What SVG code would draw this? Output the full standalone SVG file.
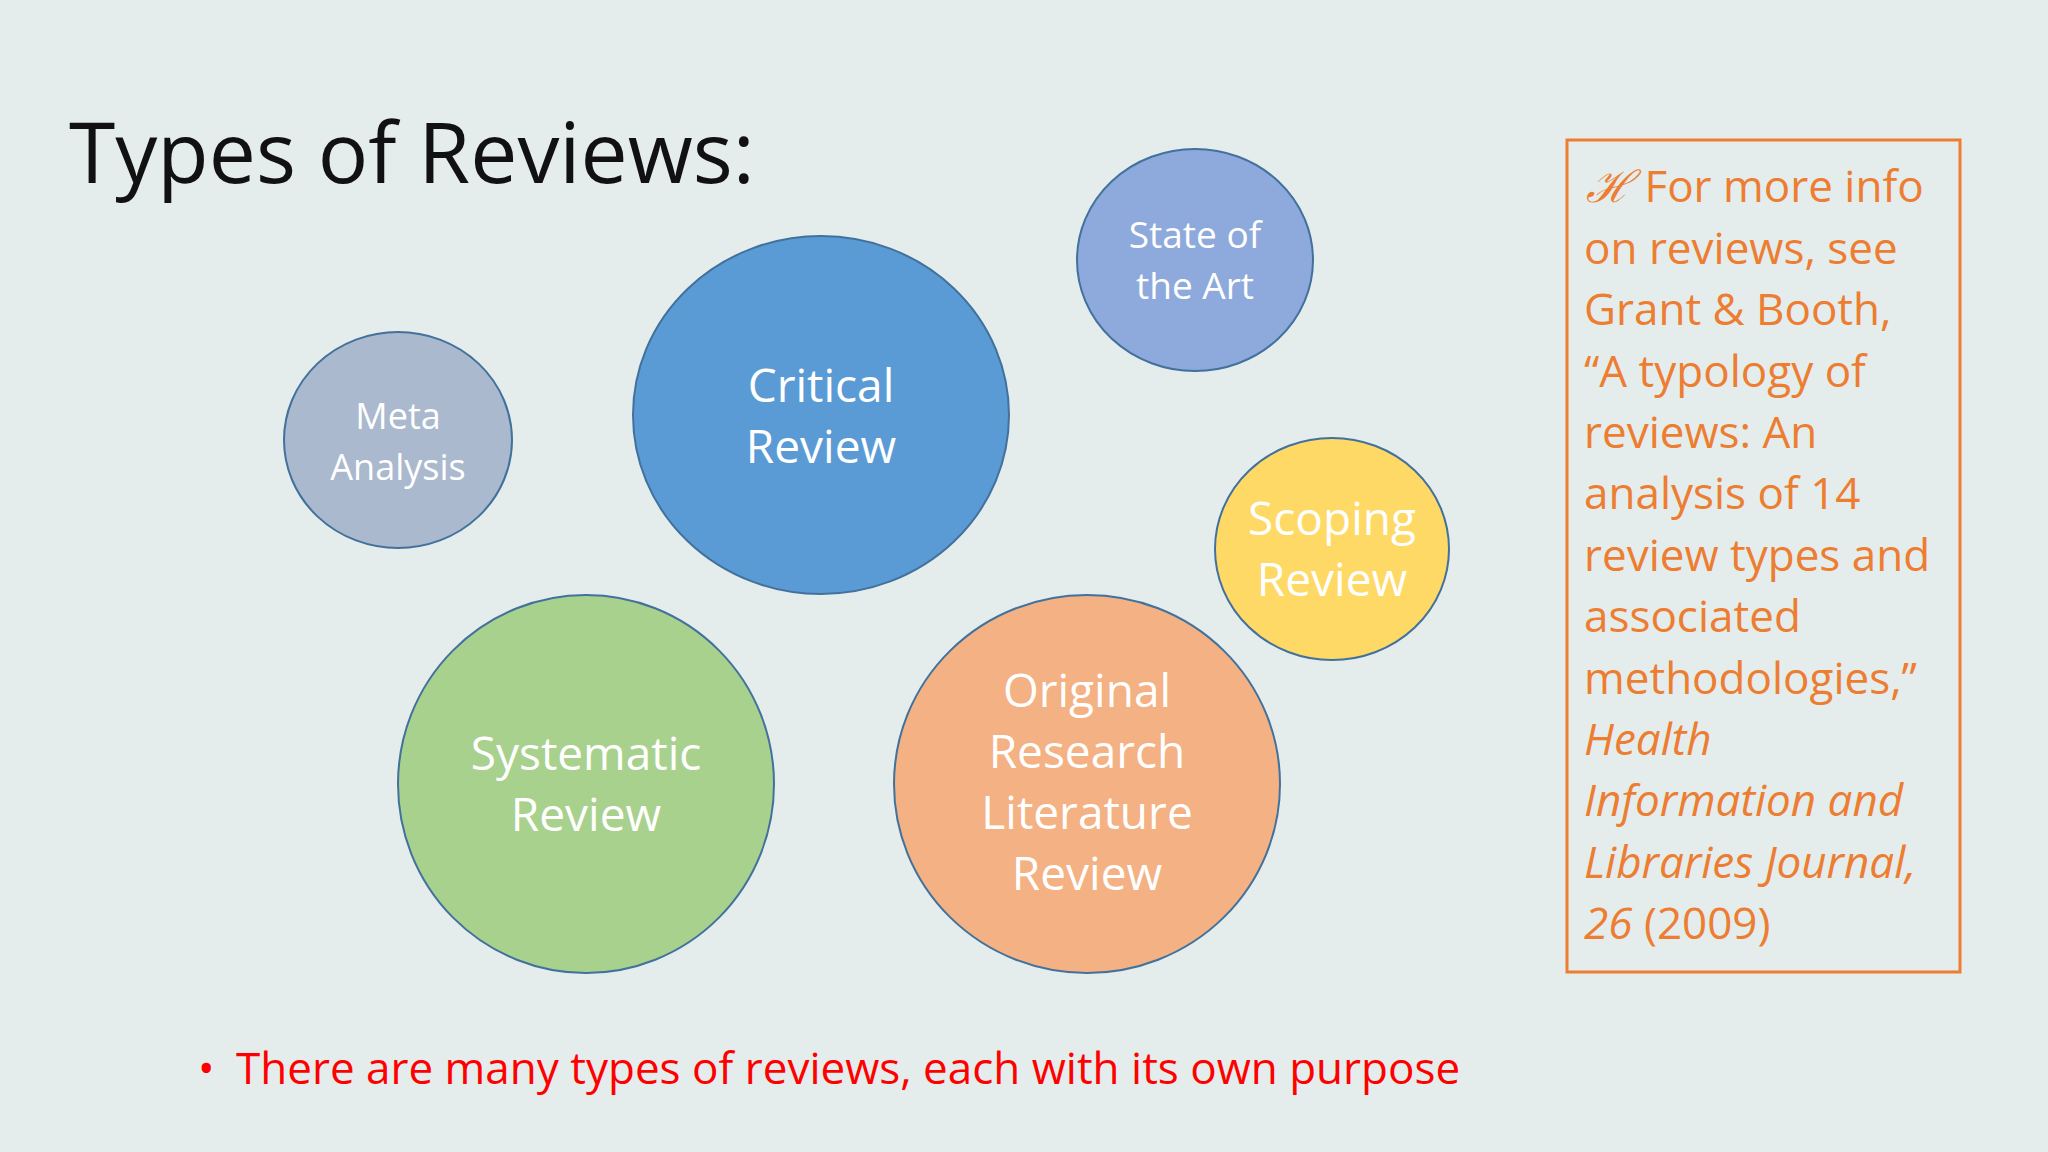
<svg xmlns="http://www.w3.org/2000/svg" width="2048" height="1152" viewBox="0 0 2048 1152">
<style>
.c{stroke:#41719C;stroke-width:2}
.t{font-family:"Open Sans","Liberation Sans",sans-serif;fill:#fff;text-anchor:middle}
.b{font-family:"Open Sans","Liberation Sans",sans-serif;fill:#ED7D31;font-size:44px}
</style>
<rect width="2048" height="1152" fill="#E4ECEC"/>
<text x="69" y="183" font-family="Open Sans,Liberation Sans,sans-serif" font-size="84" fill="#111">Types of Reviews:</text>
<g id="meta"><ellipse class="c" cx="398" cy="440" rx="114" ry="108" fill="#ABB9CE"/><text class="t" font-size="36"><tspan x="398" y="429">Meta</tspan><tspan x="398" y="480">Analysis</tspan></text></g>
<g id="critical"><ellipse class="c" cx="821" cy="415" rx="188" ry="179" fill="#5B9BD5"/><text class="t" font-size="46"><tspan x="821" y="402">Critical</tspan><tspan x="821" y="463">Review</tspan></text></g>
<g id="state"><ellipse class="c" cx="1195" cy="260" rx="118" ry="111" fill="#8EA9DB"/><text class="t" font-size="37"><tspan x="1195" y="248">State of</tspan><tspan x="1195" y="299">the Art</tspan></text></g>
<g id="scoping"><ellipse class="c" cx="1332" cy="549" rx="117" ry="111" fill="#FFD966"/><text class="t" font-size="46"><tspan x="1332" y="535">Scoping</tspan><tspan x="1332" y="596">Review</tspan></text></g>
<g id="systematic"><ellipse class="c" cx="586" cy="784" rx="188" ry="189" fill="#A9D18E"/><text class="t" font-size="46"><tspan x="586" y="770">Systematic</tspan><tspan x="586" y="831">Review</tspan></text></g>
<g id="original"><ellipse class="c" cx="1087" cy="784" rx="193" ry="189" fill="#F4B183"/><text class="t" font-size="46"><tspan x="1087" y="707">Original</tspan><tspan x="1087" y="768">Research</tspan><tspan x="1087" y="829">Literature</tspan><tspan x="1087" y="890">Review</tspan></text></g>
<g id="connectors"/>
<g id="note"><rect x="1567" y="140" width="393" height="832" fill="none" stroke="#ED7D31" stroke-width="3"/>
<text class="b"><tspan x="1586" y="202"><tspan font-style="italic">ℋ</tspan> For more info</tspan><tspan x="1584" y="264">on reviews, see</tspan><tspan x="1584" y="325">Grant &amp; Booth,</tspan><tspan x="1584" y="387">“A typology of</tspan><tspan x="1584" y="448">reviews: An</tspan><tspan x="1584" y="509">analysis of 14</tspan><tspan x="1584" y="571">review types and</tspan><tspan x="1584" y="632">associated</tspan><tspan x="1584" y="694">methodologies,”</tspan><tspan x="1584" y="755" font-style="italic">Health</tspan><tspan x="1584" y="816" font-style="italic">Information and</tspan><tspan x="1584" y="878" font-style="italic">Libraries Journal,</tspan><tspan x="1584" y="939"><tspan font-style="italic">26</tspan> (2009)</tspan></text></g>
<text x="198" y="1084" font-family="Open Sans,Liberation Sans,sans-serif" font-size="44" fill="#FF0000">•<tspan x="236">There are many types of reviews, each with its own purpose</tspan></text>
</svg>
